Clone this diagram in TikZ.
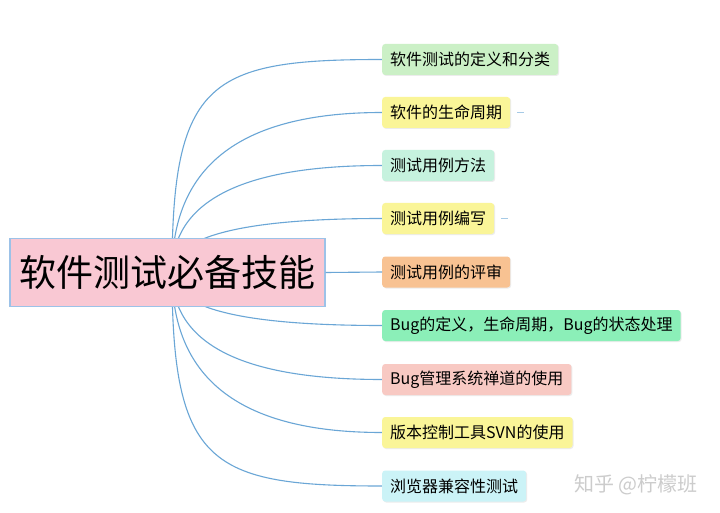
\documentclass[tikz,border=0pt]{standalone}
\usepackage{fontspec}
\setmainfont{Noto Sans CJK SC}
\usetikzlibrary{shadows,calc}
\pgfdeclarelayer{background}
\pgfsetlayers{background,main}
\definecolor{linkc}{HTML}{6AA6D6}
\definecolor{rootfill}{HTML}{F9C8D3}
\definecolor{rootdraw}{HTML}{9CC2E8}
\definecolor{cA}{HTML}{CBF0C6}
\definecolor{cY}{HTML}{FAF598}
\definecolor{cB}{HTML}{C6F2DE}
\definecolor{cO}{HTML}{F8C292}
\definecolor{cM}{HTML}{8BEFB8}
\definecolor{cP}{HTML}{F8C9C3}
\definecolor{cC}{HTML}{CBF3F7}
\tikzset{
  rootbox/.style={draw=rootdraw, line width=1.2pt, fill=rootfill, minimum width=315pt, minimum height=68pt, inner sep=0pt, font=\fontsize{37}{40}\selectfont},
  topic/.style={anchor=west, rounded corners=3pt, minimum height=31pt, inner xsep=8pt, inner ysep=0pt, font=\fontsize{16}{19}\selectfont, drop shadow={shadow xshift=1pt, shadow yshift=-1pt, fill=black!12, opacity=0.6}},
  link/.style={draw=linkc, line width=1.1pt},
  stub/.style={draw=linkc!60, line width=1pt},
}
\begin{document}
\begin{tikzpicture}[x=1pt,y=-1pt]
\useasboundingbox (0,0) rectangle (720,513);
\node[rootbox] (root) at (167.5,272.5) {软件测试必备技能};
\coordinate (hub) at (172,272.5);
\node[topic, fill=cA] (b1) at (382,59.5) {软件测试的定义和分类};
\node[topic, fill=cY] (b2) at (382,112.5) {软件的生命周期};
\node[topic, fill=cB] (b3) at (382,165.5) {测试用例方法};
\node[topic, fill=cY] (b4) at (382,218.5) {测试用例编写};
\node[topic, fill=cO] (b5) at (382,272) {测试用例的评审};
\node[topic, fill=cM] (b6) at (382,325.5) {Bug的定义，生命周期，Bug的状态处理};
\node[topic, fill=cP] (b7) at (382,379.5) {Bug管理系统禅道的使用};
\node[topic, fill=cY] (b8) at (382,432.5) {版本控制工具SVN的使用};
\node[topic, fill=cC] (b9) at (382,486) {浏览器兼容性测试};
\begin{pgfonlayer}{background}
\fill[white] (0,0) rectangle (720,513);
\draw[link] (hub) .. controls (172,80) and (210,59.5) .. (b1.west);
\draw[link] (hub) .. controls (172,170) and (235,112.5) .. (b2.west);
\draw[link] (hub) .. controls (172,201) and (242,165.5) .. (b3.west);
\draw[link] (hub) .. controls (172,236.5) and (242,218.5) .. (b4.west);
\draw[link] (hub) .. controls (172,308.5) and (242,325.5) .. (b6.west);
\draw[link] (hub) .. controls (172,344) and (242,379.5) .. (b7.west);
\draw[link] (hub) .. controls (172,375) and (235,432.5) .. (b8.west);
\draw[link] (hub) .. controls (172,465) and (210,486) .. (b9.west);
\end{pgfonlayer}
\draw[link] (root.east) -- (b5.west);
\coordinate (s2) at ($(b2.east)+(7,0)$);
\draw[stub] (s2) -- ++(7,0);
\coordinate (s4) at ($(b4.east)+(7,0)$);
\draw[stub] (s4) -- ++(7,0);
\node[text=black!20, font=\fontsize{20}{23}\selectfont, inner sep=0pt] (wm) at (636,485) {知乎 @柠檬班};
\end{tikzpicture}
\end{document}
